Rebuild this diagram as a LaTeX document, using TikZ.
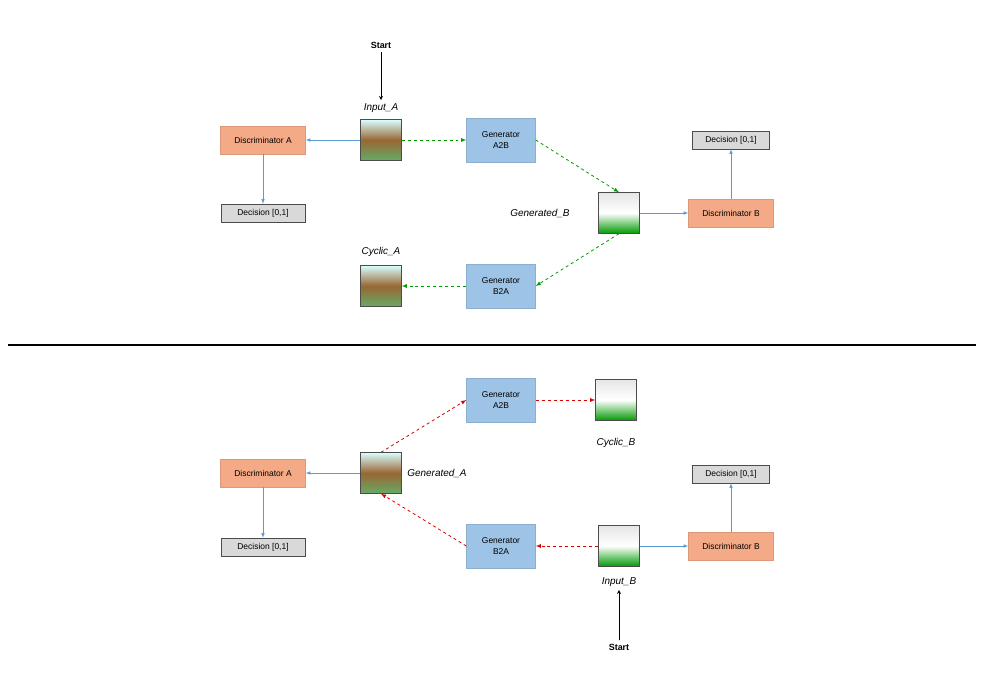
\documentclass[tikz,border=0pt]{standalone}
\usepackage{fontspec}
\setmainfont{Liberation Sans}
\definecolor{genc}{RGB}{157,195,230}
\definecolor{discc}{RGB}{244,170,135}
\definecolor{arrc}{RGB}{91,155,213}
\begin{document}
\begin{tikzpicture}[x=1bp,y=-1bp,
  disc/.style={draw=discc!90!black, fill=discc, minimum width=85bp, minimum height=28bp, font=\fontsize{8.5}{10}\selectfont, inner sep=0},
  dec/.style={draw=black!70, fill=black!15, minimum width=84bp, minimum height=18bp, font=\fontsize{8.5}{10}\selectfont, inner sep=0},
  gen/.style={draw=genc!90!black, fill=genc, minimum width=69bp, minimum height=44bp, align=center, font=\fontsize{8.5}{11}\selectfont, inner sep=0},
  horse/.style={draw=black!70, minimum size=41bp, inner sep=0, top color=cyan!15, bottom color=green!45!black!60, middle color=brown!80!black},
  zebra/.style={draw=black!70, minimum size=41bp, inner sep=0, top color=gray!20, bottom color=green!60!black, middle color=white},
  lab/.style={font=\fontsize{10}{12}\selectfont\itshape},
  st/.style={font=\fontsize{9}{11}\selectfont\bfseries},
  blue arr/.style={draw=arrc, -latex, semithick},
  gdash/.style={draw=green!60!black, dashed, thick, -latex},
  rdash/.style={draw=red!85!black, dashed, thick, -latex},
  ]
\useasboundingbox (0,0) rectangle (983,693);
% top
\node[st] (s1) at (381,45) {Start};
\node[horse] (ia) at (381,140) {};
\node[lab] (ial) at (381,108) {Input\_A};
\draw[-stealth, thick] (s1) -- (ial);
\node[disc] (da) at (263,140) {Discriminator A};
\node[dec] (deca) at (263,213) {Decision [0,1]};
\node[gen] (g1) at (501,140) {Generator\\A2B};
\node[zebra] (gb) at (619,213) {};
\node[lab] (gbl) at (540,213) {Generated\_B};
\node[disc] (db) at (731,213) {Discriminator B};
\node[dec, minimum width=77bp] (decb) at (731,140) {Decision [0,1]};
\node[gen] (g2) at (501,286) {Generator\\B2A};
\node[horse] (ca) at (381,286) {};
\node[lab] (cal) at (381,252) {Cyclic\_A};
\draw[blue arr] (ia) -- (da);
\draw[blue arr] (da) -- (deca);
\draw[blue arr] (gb) -- (db);
\draw[blue arr] (db) -- (decb);
\draw[gdash] (ia) -- (g1);
\draw[gdash] (g1.east) -- (gb.north);
\draw[gdash] (gb.south) -- (g2.east);
\draw[gdash] (g2) -- (ca);
\draw[line width=2.5bp] (8,345) coordinate (l1) -- (976,345) coordinate (l2);
% bottom
\node[gen] (g3) at (501,400) {Generator\\A2B};
\node[zebra] (cb) at (616,400) {};
\node[lab] (cbl) at (616,443) {Cyclic\_B};
\node[horse] (ga) at (381,473) {};
\node[lab] (gal) at (437,473) {Generated\_A};
\node[disc] (da2) at (263,473) {Discriminator A};
\node[dec] (deca2) at (263,547) {Decision [0,1]};
\node[gen] (g4) at (501,546) {Generator\\B2A};
\node[zebra] (ib) at (619,546) {};
\node[lab] (ibl) at (619,582) {Input\_B};
\node[disc] (db2) at (731,546) {Discriminator B};
\node[dec, minimum width=77bp] (decb2) at (731,474) {Decision [0,1]};
\node[st] (s2) at (619,647) {Start};
\draw[-stealth, thick] (s2) -- (ibl);
\draw[blue arr] (ga) -- (da2);
\draw[blue arr] (da2) -- (deca2);
\draw[blue arr] (ib) -- (db2);
\draw[blue arr] (db2) -- (decb2);
\draw[rdash] (ga.north) -- (g3.west);
\draw[rdash] (g3) -- (cb);
\draw[rdash] (ib) -- (g4);
\draw[rdash] (g4.west) -- (ga.south);
\end{tikzpicture}
\end{document}
